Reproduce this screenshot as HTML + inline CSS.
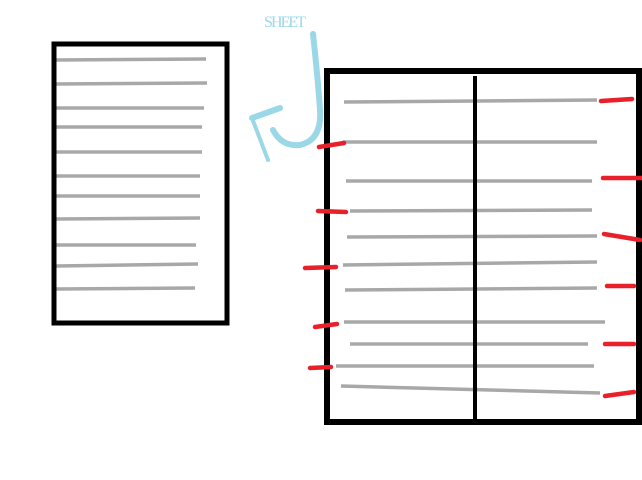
<!DOCTYPE html>
<html><head><style>body{margin:0;background:#fff}svg{display:block}</style></head><body>
<svg width="642" height="480" xmlns="http://www.w3.org/2000/svg">
<rect width="642" height="480" fill="#fff"/>
<g stroke="#a8a8a8" stroke-width="3.5" fill="none">
<line x1="56" y1="60" x2="206" y2="59"/><line x1="56" y1="84" x2="207" y2="83"/>
<line x1="56" y1="108" x2="204" y2="108"/><line x1="56" y1="127" x2="202" y2="127"/>
<line x1="56" y1="152" x2="202" y2="152"/><line x1="56" y1="176" x2="200" y2="176"/>
<line x1="56" y1="196" x2="200" y2="196"/><line x1="56" y1="219" x2="200" y2="218"/>
<line x1="56" y1="245" x2="196" y2="245"/><line x1="56" y1="266" x2="198" y2="264"/>
<line x1="56" y1="289" x2="195" y2="288"/>
<line x1="344" y1="102" x2="597" y2="100"/><line x1="343" y1="142" x2="597" y2="142"/>
<line x1="346" y1="181" x2="592" y2="181"/><line x1="350" y1="211" x2="592" y2="210"/>
<line x1="347" y1="237" x2="597" y2="236"/><line x1="343" y1="265" x2="597" y2="262"/>
<line x1="345" y1="290" x2="597" y2="288"/><line x1="344" y1="322" x2="605" y2="322"/>
<line x1="350" y1="344" x2="588" y2="344"/><line x1="336" y1="366" x2="594" y2="366"/>
<line x1="341" y1="386" x2="600" y2="393"/>
</g>
<rect x="54" y="44" width="173" height="279" fill="none" stroke="#000" stroke-width="5"/>
<rect x="327" y="71" width="312" height="351" fill="none" stroke="#000" stroke-width="6"/>
<line x1="475" y1="76" x2="475" y2="421" stroke="#000" stroke-width="4"/>
<g stroke="#e8202a" stroke-width="4.5" stroke-linecap="round">
<line x1="601" y1="101" x2="632" y2="99"/><line x1="603" y1="178" x2="642" y2="178"/>
<line x1="604" y1="234" x2="640" y2="240"/><line x1="607" y1="286" x2="634" y2="286"/>
<line x1="605" y1="344" x2="634" y2="344"/><line x1="605" y1="396" x2="634" y2="392"/>
<line x1="319" y1="147" x2="344" y2="143"/><line x1="318" y1="211" x2="346" y2="212"/>
<line x1="305" y1="268" x2="336" y2="267"/><line x1="315" y1="327" x2="337" y2="324"/>
<line x1="310" y1="368" x2="331" y2="367"/>
</g>
<g stroke="#9ad8e8" fill="none" stroke-linecap="round">
<path d="M313 34 Q318 80 320 110 Q322 140 300 145 Q282 147 273 130" stroke-width="6"/>
<line x1="252" y1="118" x2="280" y2="108" stroke-width="6"/>
<line x1="252" y1="118" x2="268" y2="160" stroke-width="4"/>
</g>
<text x="264" y="27" font-family="Liberation Serif, serif" font-size="16" fill="#9ad8e8" textLength="42">SHEET</text>
</svg>
</body></html>
